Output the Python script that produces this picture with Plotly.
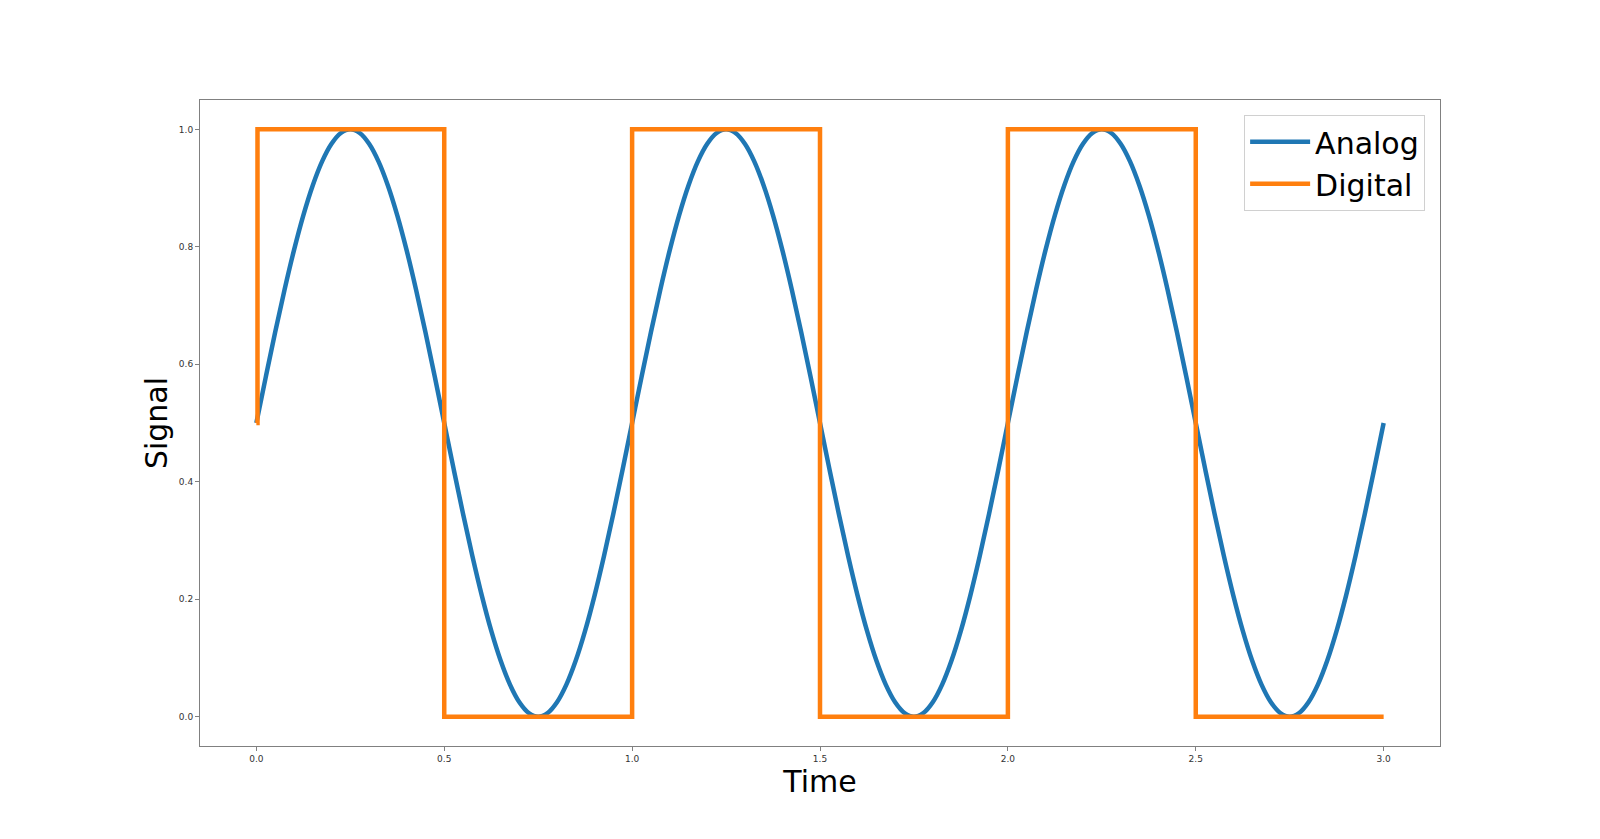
import plotly.graph_objects as go

# Analog signal, read at steps of 0.025 in time
t_analog = [round(i * 0.025, 3) for i in range(121)]
analog = [
    0.5, 0.5782, 0.6545, 0.7270, 0.7939, 0.8536, 0.9045, 0.9455, 0.9755, 0.9938,
    1.0, 0.9938, 0.9755, 0.9455, 0.9045, 0.8536, 0.7939, 0.7270, 0.6545, 0.5782,
    0.5, 0.4218, 0.3455, 0.2730, 0.2061, 0.1464, 0.0955, 0.0545, 0.0245, 0.0062,
    0.0, 0.0062, 0.0245, 0.0545, 0.0955, 0.1464, 0.2061, 0.2730, 0.3455, 0.4218,
    0.5, 0.5782, 0.6545, 0.7270, 0.7939, 0.8536, 0.9045, 0.9455, 0.9755, 0.9938,
    1.0, 0.9938, 0.9755, 0.9455, 0.9045, 0.8536, 0.7939, 0.7270, 0.6545, 0.5782,
    0.5, 0.4218, 0.3455, 0.2730, 0.2061, 0.1464, 0.0955, 0.0545, 0.0245, 0.0062,
    0.0, 0.0062, 0.0245, 0.0545, 0.0955, 0.1464, 0.2061, 0.2730, 0.3455, 0.4218,
    0.5, 0.5782, 0.6545, 0.7270, 0.7939, 0.8536, 0.9045, 0.9455, 0.9755, 0.9938,
    1.0, 0.9938, 0.9755, 0.9455, 0.9045, 0.8536, 0.7939, 0.7270, 0.6545, 0.5782,
    0.5, 0.4218, 0.3455, 0.2730, 0.2061, 0.1464, 0.0955, 0.0545, 0.0245, 0.0062,
    0.0, 0.0062, 0.0245, 0.0545, 0.0955, 0.1464, 0.2061, 0.2730, 0.3455, 0.4218,
    0.5,
]

# Digital signal (step changes)
t_digital = [0.0, 0.003, 0.5, 1.0, 1.5, 2.0, 2.5, 3.0]
digital = [0.5, 1.0, 0.0, 1.0, 0.0, 1.0, 0.0, 0.0]

x_ticks = [0.0, 0.5, 1.0, 1.5, 2.0, 2.5, 3.0]
y_ticks = [0.0, 0.2, 0.4, 0.6, 0.8, 1.0]

fig = go.Figure()
fig.add_trace(go.Scatter(x=t_analog, y=analog, mode="lines", name="Analog",
                         line=dict(color="#1f77b4", width=4.5, shape="spline")))
fig.add_trace(go.Scatter(x=t_digital, y=digital, mode="lines", name="Digital",
                         line=dict(color="#ff7f0e", width=4.5, shape="hv")))

axis_common = dict(showline=True, mirror=True, linecolor="#808080", linewidth=1,
                   ticks="outside", ticklen=4, tickcolor="#808080", showgrid=False,
                   zeroline=False, tickfont=dict(size=9, color="#333"))

fig.update_layout(
    width=1600, height=839,
    margin=dict(l=200, r=160, t=100, b=93),
    paper_bgcolor="white", plot_bgcolor="white",
    font=dict(family="DejaVu Sans", color="black"),
    xaxis=dict(range=[-0.15, 3.15], tickvals=x_ticks,
               ticktext=[f"{v:.1f}" for v in x_ticks],
               title=dict(text="Time", font=dict(size=30), standoff=5),
               **axis_common),
    yaxis=dict(range=[-0.05, 1.05], tickvals=y_ticks,
               ticktext=[f"{v:.1f}" for v in y_ticks],
               title=dict(text="Signal", font=dict(size=30), standoff=2),
               **axis_common),
    legend=dict(x=0.988, y=0.977, xanchor="right", yanchor="top",
                bgcolor="rgba(255,255,255,0.8)", bordercolor="#d0d0d0", borderwidth=1,
                font=dict(size=30), itemwidth=60),
    showlegend=True,
)

fig.write_html("out.html")
